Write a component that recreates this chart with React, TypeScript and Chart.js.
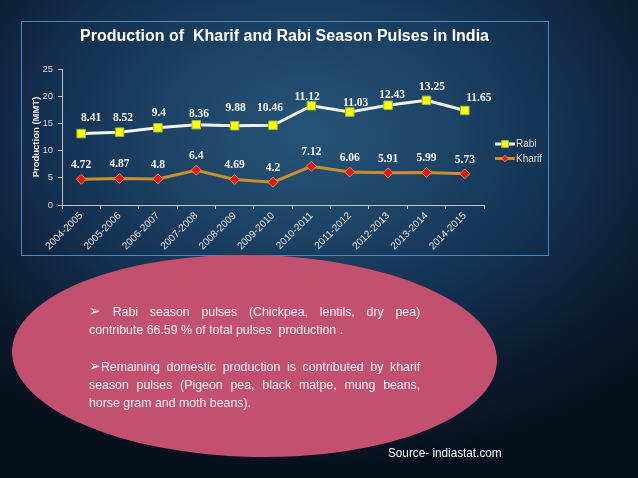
import React, { useEffect, useRef } from "react";
import { Chart, registerables } from "chart.js";

Chart.register(...registerables);

// Crop years on the category axis
const seasons = [
  "2004-2005", "2005-2006", "2006-2007", "2007-2008", "2008-2009", "2009-2010",
  "2010-2011", "2011-2012", "2012-2013", "2013-2014", "2014-2015",
];

// Production in million metric tonnes
const kharifOutput = [4.72, 4.87, 4.8, 6.4, 4.69, 4.2, 7.12, 6.06, 5.91, 5.99, 5.73];
const rabiOutput = [8.41, 8.52, 9.4, 8.36, 9.88, 10.46, 11.12, 11.03, 12.43, 13.25, 11.65];

const yTicks = [0, 5, 10, 15, 20, 25];

const chartTitle = "Production of  Kharif and Rabi Season Pulses in India";
const yTitle = "Production (MMT)";

// Hand placement of the Rabi value labels relative to their point (dx, dy in px)
const rabiLabelShift: [number, number][] = [
  [10, -16], [3.5, -14], [1, -15], [2.7, -11], [1, -18], [-3, -17.5],
  [-4.3, -8.5], [6, -9], [4, -10], [5.6, -13], [14, -12.5],
];
const kharifLabelLift = -14;

const SANS = "'Liberation Sans', Arial, sans-serif";
const SERIF = "'Liberation Serif', 'Times New Roman', serif";

const RABI_LINE = "#f1f4f4";
const RABI_FILL = "#ffff00";
const RABI_EDGE = "#9bbb3b";
const KHARIF_LINE = "#c98f2c";
const KHARIF_FILL = "#e3161b";
const KHARIF_EDGE = "#d99638";

const decorPlugin = {
  id: "slideDecor",
  afterDatasetsDraw(chart: any) {
    const ctx = chart.ctx as CanvasRenderingContext2D;
    ctx.save();

    // Chart heading
    ctx.font = `bold 16px ${SANS}`;
    ctx.fillStyle = "#ffffff";
    ctx.textAlign = "center";
    ctx.textBaseline = "middle";
    ctx.fillText(chartTitle, chart.width / 2, 16);

    // Value labels
    ctx.font = `bold 11.5px ${SERIF}`;
    ctx.fillStyle = "#f5f5f5";
    const kMeta = chart.getDatasetMeta(0);
    const rMeta = chart.getDatasetMeta(1);
    kMeta.data.forEach((pt: any, i: number) => {
      ctx.fillText(String(kharifOutput[i]), pt.x, pt.y + kharifLabelLift);
    });
    rMeta.data.forEach((pt: any, i: number) => {
      const [dx, dy] = rabiLabelShift[i];
      ctx.fillText(String(rabiOutput[i]), pt.x + dx, pt.y + dy);
    });

    // Legend (line sample with marker)
    const items = [
      { label: "Rabi", line: RABI_LINE, fill: RABI_FILL, edge: RABI_EDGE, style: "rect", r: 4.5, y: 123 },
      { label: "Kharif", line: KHARIF_LINE, fill: KHARIF_FILL, edge: KHARIF_EDGE, style: "rectRot", r: 4, y: 137.5 },
    ];
    const x0 = chart.chartArea.right + 11;
    items.forEach((it) => {
      ctx.strokeStyle = it.line;
      ctx.lineWidth = 3;
      ctx.beginPath();
      ctx.moveTo(x0, it.y);
      ctx.lineTo(x0 + 20, it.y);
      ctx.stroke();
      ctx.fillStyle = it.fill;
      ctx.strokeStyle = it.edge;
      ctx.lineWidth = 1;
      ctx.beginPath();
      const cx = x0 + 10;
      if (it.style === "rect") {
        ctx.rect(cx - it.r * 0.75, it.y - it.r * 0.75, it.r * 1.5, it.r * 1.5);
      } else {
        ctx.moveTo(cx - it.r * 0.8, it.y);
        ctx.lineTo(cx, it.y + it.r * 0.8);
        ctx.lineTo(cx + it.r * 0.8, it.y);
        ctx.lineTo(cx, it.y - it.r * 0.8);
        ctx.closePath();
      }
      ctx.fill();
      ctx.stroke();
      ctx.fillStyle = "#dcdcdc";
      ctx.font = `10px ${SANS}`;
      ctx.textAlign = "left";
      ctx.fillText(it.label, x0 + 21, it.y + 0.5);
    });

    ctx.restore();
  },
};

function PulsesChart() {
  const ref = useRef<HTMLCanvasElement | null>(null);

  useEffect(() => {
    if (!ref.current) return;
    const chart = new Chart(ref.current, {
      type: "line",
      data: {
        labels: seasons,
        datasets: [
          {
            label: "Kharif",
            data: kharifOutput,
            borderColor: KHARIF_LINE,
            borderWidth: 3,
            pointStyle: "rectRot",
            pointRadius: 5,
            pointBackgroundColor: KHARIF_FILL,
            pointBorderColor: KHARIF_EDGE,
            pointBorderWidth: 1,
            tension: 0,
            fill: false,
          },
          {
            label: "Rabi",
            data: rabiOutput,
            borderColor: RABI_LINE,
            borderWidth: 3,
            pointStyle: "rect",
            pointRadius: 6,
            pointBackgroundColor: RABI_FILL,
            pointBorderColor: RABI_EDGE,
            pointBorderWidth: 1,
            tension: 0,
            fill: false,
          },
        ],
      },
      options: {
        animation: false,
        responsive: false,
        maintainAspectRatio: false,
        layout: { padding: { top: 48, right: 64, left: 0, bottom: 0 } },
        plugins: {
          legend: { display: false },
          title: { display: false },
          tooltip: { enabled: false },
        },
        scales: {
          x: {
            offset: true,
            grid: { offset: true, drawOnChartArea: false, tickLength: 4, color: "#c4c4c4" },
            border: { color: "#c4c4c4", width: 1 },
            ticks: {
              color: "#e2e2e2",
              font: { size: 10, family: SANS },
              maxRotation: 45,
              minRotation: 45,
              autoSkip: false,
              padding: 1,
            },
            afterFit: (s: any) => {
              s.height = 50;
            },
          },
          y: {
            stacked: true,
            min: 0,
            max: 25,
            afterBuildTicks: (s: any) => {
              s.ticks = yTicks.map((v) => ({ value: v }));
            },
            grid: { drawOnChartArea: false, tickLength: 4, color: "#c4c4c4" },
            border: { color: "#c4c4c4", width: 1 },
            ticks: { color: "#d9d9d9", font: { size: 9.5, family: SANS }, padding: 5 },
            title: {
              display: true,
              text: yTitle,
              color: "#f0f0f0",
              font: { size: 9.5, weight: "bold", family: SANS },
              padding: { top: 10, bottom: 0 },
            },
            afterFit: (s: any) => {
              s.width = 41;
            },
          },
        },
      },
      plugins: [decorPlugin],
    });
    return () => chart.destroy();
  }, []);

  return (
    <canvas
      ref={ref}
      width={527}
      height={234}
      style={{ position: "absolute", left: 21, top: 21, width: 527, height: 234 }}
    />
  );
}

const bodyText: React.CSSProperties = {
  fontFamily: SANS,
  fontSize: 13.5,
  lineHeight: "18.3px",
  color: "#f7f0f2",
  whiteSpace: "nowrap",
};

const justified: React.CSSProperties = {
  textAlign: "justify",
  textAlignLast: "justify" as any,
  whiteSpace: "normal",
};

const bullet: React.CSSProperties = { fontSize: 15, lineHeight: "10px" };

export default function App() {
  return (
    <div
      style={{
        position: "fixed",
        left: 0,
        top: 0,
        width: 638,
        height: 478,
        overflow: "hidden",
        background:
          "radial-gradient(ellipse 75% 70% at 48% 28%, #265479 0%, #1d4467 28%, #143050 55%, #0b1c2f 80%, #07111d 100%)",
      }}
    >
      <div
        style={{
          position: "absolute",
          left: 21,
          top: 21,
          width: 526,
          height: 233,
          border: "1px solid #4f86bd",
        }}
      />
      <PulsesChart />
      <div
        style={{
          position: "absolute",
          left: 12,
          top: 255,
          width: 485,
          height: 202,
          borderRadius: "50%",
          background: "#c4506f",
          transform: "rotate(1.2deg)",
        }}
      />
      <div
        style={{
          position: "absolute",
          left: 89,
          top: 303,
          width: 362,
          transform: "scaleX(0.915)",
          transformOrigin: "0 0",
          ...bodyText,
        }}
      >
        <div style={justified}>
          <span style={bullet}>➢</span> Rabi season pulses (Chickpea, lentils, dry pea)
        </div>
        <div>contribute 66.59 % of total pulses&nbsp; production .</div>
        <div>&nbsp;</div>
        <div style={justified}>
          <span style={bullet}>➢</span>Remaining domestic production is contributed by kharif
        </div>
        <div style={justified}>season pulses (Pigeon pea, black matpe, mung beans,</div>
        <div>horse gram and moth beans).</div>
      </div>
      <div
        style={{
          position: "absolute",
          left: 388,
          top: 444,
          transform: "scaleX(0.87)",
          transformOrigin: "0 0",
          ...bodyText,
          color: "#ffffff",
        }}
      >
        Source- indiastat.com
      </div>
    </div>
  );
}
